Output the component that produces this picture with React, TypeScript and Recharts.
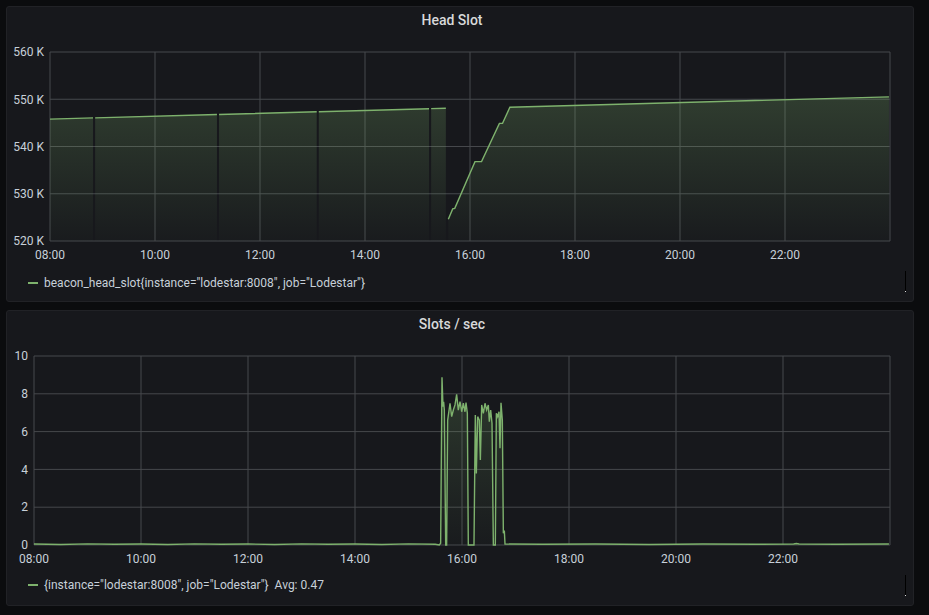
import { Area, AreaChart, CartesianGrid, XAxis, YAxis } from 'recharts';

const hourTicks = [8, 10, 12, 14, 16, 18, 20, 22];
const headSlotTicks = [520000, 530000, 540000, 550000, 560000];
const slotsTicks = [0, 2, 4, 6, 8, 10];

// time in decimal hours, null = missing scrape (gap)
const headSlotHours = [
  8.0, 8.82, 8.84, 8.86, 11.18, 11.2, 11.22, 13.08, 13.1, 13.12, 15.22, 15.24, 15.26,
  15.54, 15.56, 15.587, 15.67, 15.71, 16.095, 16.22, 16.56, 16.62, 16.76, 23.98,
];
const headSlotValues = [
  545800, 546050, null, 546060, 546770, null, 546780, 547350, null, 547360, 548000, null, 548010,
  548100, null, 524600, 526800, 526900, 536800, 536800, 544900, 544900, 548300, 550500,
];

const slotsHours = [
  8.0, 8.5, 9.0, 9.5, 10.0, 10.5, 11.0, 11.5, 12.0, 12.5, 13.0, 13.5, 14.0, 14.5, 15.0, 15.5,
  15.576, 15.601, 15.626, 15.645, 15.657, 15.67, 15.695, 15.713, 15.732, 15.776, 15.807, 15.838,
  15.869, 15.9, 15.931, 15.963, 15.994, 16.025, 16.056, 16.075, 16.1, 16.118, 16.224, 16.249,
  16.268, 16.293, 16.324, 16.343, 16.368, 16.399, 16.43, 16.461, 16.492, 16.511, 16.536, 16.561,
  16.586, 16.623, 16.642, 16.667, 16.692, 16.71, 16.729, 16.754, 16.773, 16.791, 16.804,
  17.5, 18.5, 19.5, 20.5, 21.5, 22.2, 22.25, 22.3, 23.0, 23.98,
];
const slotsValues = [
  0.05, 0.03, 0.06, 0.04, 0.05, 0.03, 0.06, 0.04, 0.05, 0.03, 0.06, 0.04, 0.05, 0.03, 0.06, 0.04,
  0, 0.09, 8.87, 7.32, 7.58, 7.14, 0, 0, 6.61, 7.5, 6.79, 7.14,
  7.41, 7.97, 7.14, 7.58, 7.05, 7.5, 7.05, 7.53, 6.97, 0, 0, 6.88,
  3.79, 6.79, 6.61, 4.5, 7.41, 6.97, 7.5, 7.14, 7.41, 6.53, 7.14, 6.44,
  0, 0, 6.97, 6.79, 7.05, 5.12, 7.53, 6.61, 0.62, 0.76, 0.05,
  0.04, 0.05, 0.03, 0.05, 0.04, 0.05, 0.08, 0.05, 0.04, 0.05,
];

const headData = headSlotHours.map((t, i) => ({ t, v: headSlotValues[i] }));
const slotsData = slotsHours.map((t, i) => ({ t, v: slotsValues[i] }));

const GREEN = '#7eb26d';
const GRID = '#46484c';
const TEXT = '#c7d0d9';
const FONT = 'Roboto, "Helvetica Neue", Arial, sans-serif';

const fmtHour = (h: number) => `${String(Math.floor(h)).padStart(2, '0')}:00`;

const tickStyle = { fontSize: 12, fill: TEXT, fontFamily: FONT };

function Panel({ top, height, title }: { top: number; height: number; title: string }) {
  return (
    <div
      style={{
        position: 'absolute',
        left: 6,
        top,
        width: 906,
        height,
        background: '#17181c',
        border: '1px solid #212226',
        borderRadius: 3,
      }}
    >
      <div
        style={{
          position: 'absolute',
          left: 0,
          top: 5,
          width: 890,
          textAlign: 'center',
          color: '#d8d9da',
          fontSize: 14,
          fontWeight: 500,
          fontFamily: FONT,
        }}
      >
        {title}
      </div>
      {/* resize handle */}
      <div
        style={{
          position: 'absolute',
          left: 898,
          top: height - 30,
          width: 1,
          height: 21,
          background: '#000',
        }}
      />
      <div
        style={{
          position: 'absolute',
          left: 898,
          top: height - 10,
          width: 1,
          height: 1,
          background: '#ddd',
        }}
      />
    </div>
  );
}

function LegendRow({ top, label }: { top: number; label: string }) {
  return (
    <div
      style={{
        position: 'absolute',
        left: 28,
        top,
        display: 'flex',
        alignItems: 'center',
        fontFamily: FONT,
        fontSize: 12,
        color: TEXT,
        whiteSpace: 'pre',
      }}
    >
      <span style={{ display: 'inline-block', width: 10, height: 2, background: GREEN, marginRight: 6 }} />
      <span>{label}</span>
    </div>
  );
}

export default function App() {
  return (
    <div
      style={{
        position: 'absolute',
        left: 0,
        top: 0,
        width: 929,
        height: 615,
        background: '#0b0c0e',
        overflow: 'hidden',
      }}
    >
      <Panel top={6} height={294} title="Head Slot" />
      <Panel top={310} height={294} title="Slots / sec" />

      <div style={{ position: 'absolute', left: 0, top: 40 }}>
        <AreaChart width={929} height={240} data={headData} margin={{ top: 12, right: 39, bottom: 9, left: 6 }}>
          <defs>
            <linearGradient id="headFill" x1="0" y1="0" x2="0" y2="1">
              <stop offset="0%" stopColor={GREEN} stopOpacity={0.24} />
              <stop offset="100%" stopColor={GREEN} stopOpacity={0.02} />
            </linearGradient>
          </defs>
          <CartesianGrid stroke={GRID} />
          <XAxis
            dataKey="t"
            type="number"
            domain={[8, 24]}
            ticks={hourTicks}
            tickFormatter={fmtHour}
            tick={tickStyle}
            axisLine={false}
            tickLine={false}
            tickSize={0}
            tickMargin={9}
            height={30}
          />
          <YAxis
            type="number"
            domain={[520000, 560000]}
            ticks={headSlotTicks}
            tickFormatter={(v: number) => `${v / 1000} K`}
            tick={tickStyle}
            axisLine={false}
            tickLine={false}
            tickSize={0}
            tickMargin={6}
            width={44}
          />
          <Area
            type="linear"
            dataKey="v"
            stroke={GREEN}
            strokeWidth={1.4}
            fill="url(#headFill)"
            fillOpacity={1}
            connectNulls={false}
            dot={false}
            activeDot={false}
            isAnimationActive={false}
          />
        </AreaChart>
      </div>
      <LegendRow top={276} label={'beacon_head_slot{instance="lodestar:8008", job="Lodestar"}'} />

      <div style={{ position: 'absolute', left: 0, top: 344 }}>
        <AreaChart width={929} height={240} data={slotsData} margin={{ top: 12, right: 39, bottom: 9, left: 6 }}>
          <defs>
            <linearGradient id="slotsFill" x1="0" y1="0" x2="0" y2="1">
              <stop offset="0%" stopColor={GREEN} stopOpacity={0.22} />
              <stop offset="100%" stopColor={GREEN} stopOpacity={0.02} />
            </linearGradient>
          </defs>
          <CartesianGrid stroke={GRID} />
          <XAxis
            dataKey="t"
            type="number"
            domain={[8, 24]}
            ticks={hourTicks}
            tickFormatter={fmtHour}
            tick={tickStyle}
            axisLine={false}
            tickLine={false}
            tickSize={0}
            tickMargin={9}
            height={30}
          />
          <YAxis
            type="number"
            domain={[0, 10]}
            ticks={slotsTicks}
            tick={tickStyle}
            axisLine={false}
            tickLine={false}
            tickSize={0}
            tickMargin={6}
            width={28}
          />
          <Area
            type="linear"
            dataKey="v"
            stroke={GREEN}
            strokeWidth={1.4}
            fill="url(#slotsFill)"
            fillOpacity={1}
            dot={false}
            activeDot={false}
            isAnimationActive={false}
          />
        </AreaChart>
      </div>
      <LegendRow top={578} label={'{instance="lodestar:8008", job="Lodestar"}  Avg: 0.47'} />
    </div>
  );
}
